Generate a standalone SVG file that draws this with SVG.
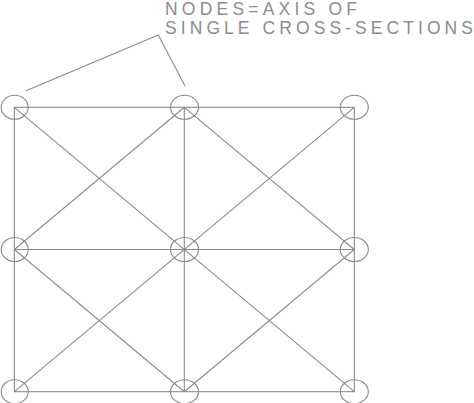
<svg xmlns="http://www.w3.org/2000/svg" width="474" height="403" viewBox="0 0 474 403">
<style>
.ln{stroke:#8a8a8a;stroke-width:1.1;fill:none}
.nd{stroke:#8a8a8a;stroke-width:1.1;fill:none}
.tx{font-family:"Liberation Sans",Arial,sans-serif;font-size:17.5px;fill:#8c8c8c}
</style>
<rect width="474" height="403" fill="#ffffff"/>
<g id="connectors" class="ln">
<rect x="14.3" y="107.3" width="340" height="284.4"/>
<line x1="184.3" y1="107.3" x2="184.3" y2="391.7"/>
<line x1="14.3" y1="249.5" x2="354.3" y2="249.5"/>
<line x1="14.3" y1="107.3" x2="354.3" y2="391.7"/>
<line x1="354.3" y1="107.3" x2="14.3" y2="391.7"/>
<polygon points="184.3,107.3 354.3,249.5 184.3,391.7 14.3,249.5"/>
<line x1="158.3" y1="35" x2="26" y2="90.7"/>
<line x1="158.3" y1="35" x2="185" y2="86"/>
</g>
<g id="node-1-1"><ellipse class="nd" cx="14.7" cy="107.3" rx="13.5" ry="12"/></g>
<g id="node-1-2"><ellipse class="nd" cx="184.5" cy="107.3" rx="14" ry="12"/></g>
<g id="node-1-3"><ellipse class="nd" cx="354.3" cy="107.3" rx="14" ry="12"/></g>
<g id="node-2-1"><ellipse class="nd" cx="14.7" cy="249.5" rx="13.5" ry="12"/></g>
<g id="node-2-2"><ellipse class="nd" cx="184.5" cy="249.5" rx="14" ry="12"/></g>
<g id="node-2-3"><ellipse class="nd" cx="354.3" cy="249.5" rx="14" ry="12"/></g>
<g id="node-3-1"><ellipse class="nd" cx="14.7" cy="391.7" rx="13.5" ry="12"/></g>
<g id="node-3-2"><ellipse class="nd" cx="184.5" cy="391.7" rx="14" ry="12"/></g>
<g id="node-3-3"><ellipse class="nd" cx="354.3" cy="391.7" rx="14" ry="12"/></g>
<g id="label">
<text class="tx" x="165" y="14.5" textLength="192" lengthAdjust="spacing">NODES=AXIS OF</text>
<text class="tx" x="165" y="33.8" textLength="308" lengthAdjust="spacing">SINGLE CROSS-SECTIONS</text>
</g>
</svg>
